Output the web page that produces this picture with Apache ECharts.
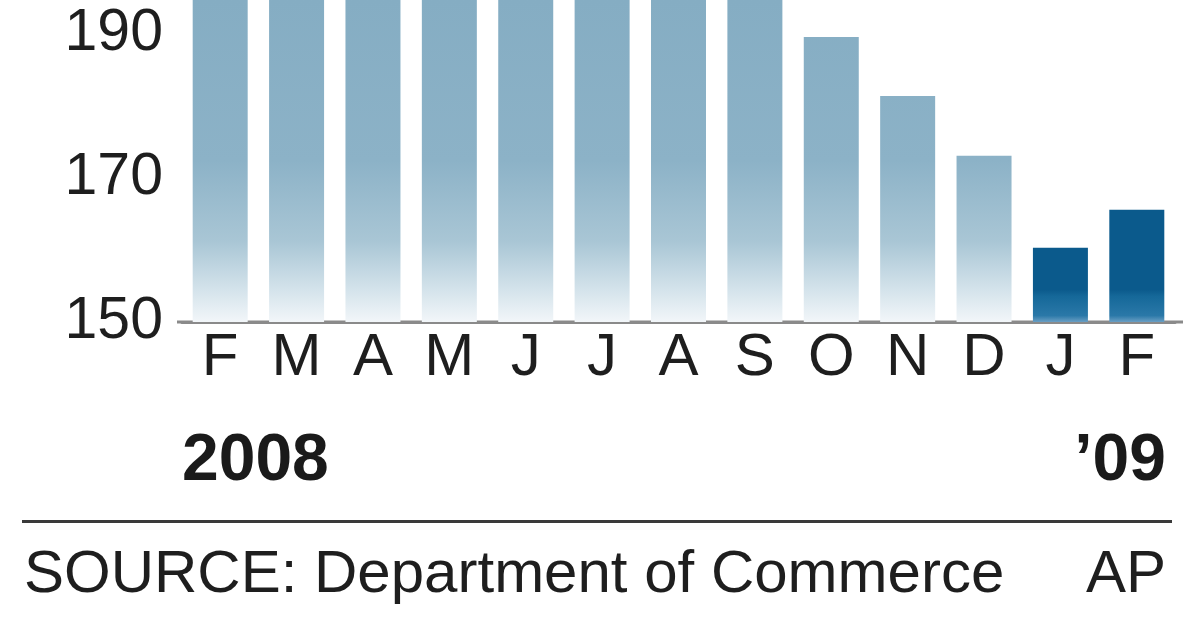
<!DOCTYPE html>
<html>
<head>
<meta charset="utf-8">
<script src="https://cdn.jsdelivr.net/npm/echarts@6/dist/echarts.min.js"></script>
<style>
  html, body { margin: 0; padding: 0; background: #fff; }
  #chart { width: 1200px; height: 630px; }
</style>
</head>
<body>
<div id="chart"></div>
<script>
// months, Feb 2008 - Feb 2009
const months = ['F', 'M', 'A', 'M', 'J', 'J', 'A', 'S', 'O', 'N', 'D', 'J', 'F'];
// values in billions (first eight run off the top of the frame)
const orders = [211, 212, 210, 211, 211, 213, 205, 203, 189.6, 181.4, 173.1, 160.3, 165.6];
// how many of the last bars are drawn dark
const recentCount = 2;
const yTicks = [150, 170, 190];

const font = '"Liberation Sans", Arial, sans-serif';
const chart = echarts.init(document.getElementById('chart'));

// grid geometry
const gridTop = 0, gridBottom = 308;
const axisY = 630 - gridBottom;

// fade the light bars toward the axis
const lightFill = {
  type: 'linear', global: true, x: 0, y: gridTop, x2: 0, y2: axisY,
  colorStops: [
    { offset: 0, color: '#85adc3' },
    { offset: 0.5, color: '#8cb2c7' },
    { offset: 0.75, color: '#a9c6d5' },
    { offset: 0.9, color: '#d4e3eb' },
    { offset: 1, color: '#f2f6f9' }
  ]
};
const darkFill = {
  type: 'linear', global: true, x: 0, y: gridTop, x2: 0, y2: axisY,
  colorStops: [
    { offset: 0, color: '#0b5a8c' },
    { offset: 0.9, color: '#0b5a8c' },
    { offset: 0.92, color: '#156899' },
    { offset: 0.98, color: '#2a78a8' },
    { offset: 1, color: '#6a9fc4' }
  ]
};

const barData = orders.map((v, i) => ({
  value: v,
  itemStyle: { color: i >= orders.length - recentCount ? darkFill : lightFill }
}));

chart.setOption({
  backgroundColor: '#fff',
  animation: false,
  grid: { left: 182, right: 25, top: gridTop, bottom: gridBottom },
  xAxis: {
    type: 'category',
    data: months,
    axisLine: { lineStyle: { color: '#8a8a8a', width: 3 } },
    axisTick: { show: false },
    axisLabel: { color: '#1e1e1e', fontSize: 60, fontFamily: font, margin: 6 }
  },
  yAxis: {
    type: 'value',
    min: 150,
    max: 150 + axisY / 7.2,
    interval: 20,
    splitLine: { show: false },
    axisLine: { show: false },
    axisTick: { show: false },
    axisLabel: {
      color: '#1e1e1e', fontSize: 59, fontFamily: font, margin: 19,
      showMaxLabel: false,
      padding: [0, 0, 14, 0],
      formatter: v => (yTicks.indexOf(v) >= 0 ? String(v) : '')
    }
  },
  series: [{
    type: 'bar',
    data: barData,
    barCategoryGap: '28%',
    clip: true
  }],
  graphic: [
    // axis line runs a little past the bars on both sides
    { type: 'rect', shape: { x: 177, y: axisY - 1.5, width: 1006, height: 3 },
      style: { fill: '#8a8a8a' } },
    { type: 'text', left: 182, top: 429,
      style: { text: '2008', font: 'bold 66px ' + font, fill: '#1a1a1a' } },
    { type: 'text', right: 34, top: 429,
      style: { text: '\u201909', font: 'bold 66px ' + font, fill: '#1a1a1a' } },
    { type: 'rect', shape: { x: 22, y: 520, width: 1150, height: 3 },
      style: { fill: '#3a3a3a' } },
    { type: 'text', left: 24, top: 545,
      style: { text: 'SOURCE: Department of Commerce', font: '60px ' + font, fill: '#1e1e1e' } },
    { type: 'text', right: 34, top: 545,
      style: { text: 'AP', font: '60px ' + font, fill: '#1e1e1e' } }
  ]
});
</script>
</body>
</html>
